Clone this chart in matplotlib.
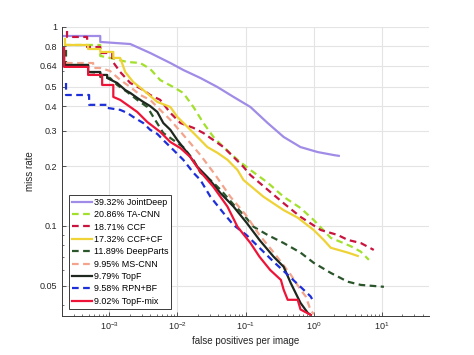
import matplotlib
matplotlib.use("Agg")
import matplotlib.pyplot as plt
from matplotlib.ticker import LogLocator, NullFormatter, FixedLocator, FixedFormatter

plt.rcParams['font.family'] = ['Liberation Sans', 'DejaVu Sans']
plt.rcParams['mathtext.fontset'] = 'custom'
plt.rcParams['mathtext.rm'] = 'Liberation Sans'
plt.rcParams['mathtext.it'] = 'Liberation Sans:italic'
plt.rcParams['mathtext.bf'] = 'Liberation Sans:bold'

# ---- data (FPPI, miss rate) ----
jointdeep_x = [2.18e-4, 7.4e-4, 7.4e-4, 2.04e-3, 4.0e-3, 7.9e-3, 1.22e-2, 2.18e-2, 3.87e-2, 6.67e-2, 0.118, 0.211, 0.362, 0.64, 1.146, 1.97, 2.33]
jointdeep_y = [0.901, 0.901, 0.841, 0.821, 0.740, 0.659, 0.608, 0.554, 0.499, 0.445, 0.396, 0.329, 0.280, 0.249, 0.235, 0.227, 0.225]

tacnn_x = [2.18e-4, 7.4e-4, 7.4e-4, 1.03e-3, 1.84e-3, 2.86e-3, 4.0e-3, 5.6e-3, 8.73e-3, 1.22e-2, 1.72e-2, 2.41e-2, 3.38e-2, 4.75e-2, 7.62e-2, 0.118, 0.211, 0.362, 0.64, 1.0, 1.78, 2.5, 3.5, 4.9, 6.44]
tacnn_y = [0.812, 0.812, 0.715, 0.699, 0.667, 0.659, 0.615, 0.541, 0.499, 0.466, 0.396, 0.329, 0.280, 0.249, 0.215, 0.191, 0.165, 0.140, 0.123, 0.107, 0.087, 0.083, 0.079, 0.0742, 0.0675]

ccf_x = [2.41e-4, 2.41e-4, 4.75e-4, 4.75e-4, 7.4e-4, 7.4e-4, 1.11e-3, 1.11e-3, 1.45e-3, 2.04e-3, 3.16e-3, 4.0e-3, 5.6e-3, 7.9e-3, 1.11e-2, 1.72e-2, 2.41e-2, 3.38e-2, 4.75e-2, 6.67e-2, 9.33e-2, 0.118, 0.211, 0.362, 0.64, 1.27, 2.25, 3.16, 4.9, 7.6]
ccf_y = [0.955, 0.891, 0.891, 0.793, 0.793, 0.740, 0.740, 0.675, 0.594, 0.523, 0.482, 0.455, 0.430, 0.370, 0.329, 0.311, 0.293, 0.270, 0.249, 0.222, 0.198, 0.180, 0.152, 0.130, 0.111, 0.0953, 0.0900, 0.0850, 0.0820, 0.0757]

ccfcf_x = [2.25e-4, 2.25e-4, 4.91e-4, 4.91e-4, 7.4e-4, 7.4e-4, 1.15e-3, 1.15e-3, 1.45e-3, 1.72e-3, 2.25e-3, 3.16e-3, 5.08e-3, 7.9e-3, 1.0e-2, 1.40e-2, 1.97e-2, 2.76e-2, 3.87e-2, 5.43e-2, 7.62e-2, 9.33e-2, 0.184, 0.362, 0.582, 1.0, 1.40, 1.78, 3.16, 4.43]
ccfcf_y = [0.870, 0.812, 0.812, 0.775, 0.775, 0.749, 0.749, 0.699, 0.699, 0.594, 0.529, 0.482, 0.420, 0.396, 0.353, 0.315, 0.280, 0.249, 0.233, 0.215, 0.191, 0.170, 0.140, 0.120, 0.110, 0.0953, 0.085, 0.0776, 0.0734, 0.0706]

deepparts_x = [2.33e-4, 2.33e-4, 4.91e-4, 4.91e-4, 7.4e-4, 7.4e-4, 1.03e-3, 1.31e-3, 1.84e-3, 2.58e-3, 3.62e-3, 4.44e-3, 6.22e-3, 8.73e-3, 1.22e-2, 1.72e-2, 2.18e-2, 3.06e-2, 4.3e-2, 6.67e-2, 9.33e-2, 0.131, 0.211, 0.362, 0.64, 1.0, 1.78, 3.16, 4.9, 10.7]
deepparts_y = [0.767, 0.644, 0.644, 0.594, 0.588, 0.561, 0.554, 0.511, 0.471, 0.430, 0.396, 0.353, 0.293, 0.270, 0.249, 0.215, 0.185, 0.170, 0.152, 0.128, 0.114, 0.099, 0.090, 0.082, 0.0734, 0.0652, 0.058, 0.0524, 0.0505, 0.0494]

mscnn_x = [2.33e-4, 5.82e-4, 5.82e-4, 7.4e-4, 1.03e-3, 1.45e-3, 2.04e-3, 2.86e-3, 4.0e-3, 5.08e-3, 7.9e-3, 1.22e-2, 2.18e-2, 3.62e-2, 6.0e-2, 0.1, 0.16, 0.276, 0.46, 0.64, 0.763, 0.9, 1.0]
mscnn_y = [0.659, 0.659, 0.622, 0.622, 0.601, 0.542, 0.499, 0.455, 0.430, 0.396, 0.341, 0.287, 0.227, 0.180, 0.140, 0.114, 0.090, 0.0715, 0.0568, 0.0478, 0.0442, 0.0377, 0.036]

topf_x = [2.18e-4, 2.18e-4, 4.91e-4, 4.91e-4, 7.4e-4, 7.4e-4, 9.35e-4, 9.35e-4, 1.31e-3, 1.72e-3, 2.04e-3, 2.58e-3, 3.16e-3, 4.0e-3, 5.08e-3, 6.22e-3, 7.9e-3, 1.0e-2, 1.40e-2, 1.97e-2, 2.76e-2, 4.3e-2, 6.67e-2, 0.103, 0.16, 0.258, 0.362, 0.46, 0.64, 0.818, 0.9]
topf_y = [0.749, 0.644, 0.644, 0.594, 0.594, 0.574, 0.574, 0.554, 0.523, 0.482, 0.466, 0.440, 0.420, 0.400, 0.374, 0.329, 0.304, 0.270, 0.233, 0.198, 0.176, 0.146, 0.125, 0.104, 0.085, 0.0700, 0.0623, 0.0516, 0.0410, 0.0365, 0.0357]

rpnbf_x = [2.33e-4, 2.33e-4, 5.08e-4, 5.08e-4, 9.35e-4, 9.35e-4, 1.45e-3, 1.84e-3, 2.25e-3, 3.16e-3, 4.0e-3, 5.08e-3, 6.22e-3, 8.73e-3, 1.22e-2, 1.72e-2, 2.18e-2, 3.06e-2, 4.75e-2, 6.67e-2, 0.103, 0.16, 0.258, 0.415, 0.64, 0.9, 0.96]
rpnbf_y = [0.523, 0.455, 0.455, 0.406, 0.406, 0.392, 0.383, 0.370, 0.353, 0.329, 0.304, 0.290, 0.270, 0.241, 0.215, 0.185, 0.170, 0.140, 0.116, 0.101, 0.090, 0.0776, 0.066, 0.0568, 0.0494, 0.0442, 0.0425]

topfmix_x = [2.18e-4, 2.18e-4, 4.91e-4, 4.91e-4, 7.89e-4, 7.89e-4, 1.15e-3, 1.15e-3, 1.45e-3, 1.84e-3, 2.58e-3, 3.62e-3, 5.6e-3, 7.9e-3, 1.11e-2, 1.55e-2, 2.18e-2, 3.38e-2, 5.43e-2, 7.62e-2, 0.118, 0.16, 0.23, 0.33, 0.362, 0.415, 0.582, 0.64, 0.9]
topfmix_y = [0.784, 0.630, 0.630, 0.574, 0.574, 0.511, 0.511, 0.445, 0.430, 0.406, 0.374, 0.333, 0.297, 0.264, 0.246, 0.222, 0.187, 0.157, 0.125, 0.099, 0.082, 0.070, 0.060, 0.0535, 0.0478, 0.0425, 0.0425, 0.038, 0.0357]

labels = ['39.32% JointDeep', '20.86% TA-CNN', '18.71% CCF', '17.32% CCF+CF',
          '11.89% DeepParts', '9.95% MS-CNN', '9.79% TopF', '9.58% RPN+BF', '9.02% TopF-mix']

ytick_vals = [0.05, 0.1, 0.2, 0.3, 0.4, 0.5, 0.64, 0.8, 1]
ytick_labels = ['0.05', '0.1', '0.2', '0.3', '0.4', '0.5', '0.64', '0.8', '1']

series = [
    (jointdeep_x, jointdeep_y, '#A08CE6', '-'),
    (tacnn_x, tacnn_y, '#A2E02C', '--'),
    (ccf_x, ccf_y, '#C8143E', '--'),
    (ccfcf_x, ccfcf_y, '#EED236', '-'),
    (deepparts_x, deepparts_y, '#2B552B', '--'),
    (mscnn_x, mscnn_y, '#F2A48C', '--'),
    (topf_x, topf_y, '#1E281E', '-'),
    (rpnbf_x, rpnbf_y, '#1C2FD8', '--'),
    (topfmix_x, topfmix_y, '#EE1438', '-'),
]

fig = plt.figure(figsize=(4.74, 3.55), dpi=100)
ax = fig.add_axes([0.131, 0.111, 0.774, 0.813])

for (xs, ys, c, ls), lab in zip(series, labels):
    if ls == '--':
        ax.plot(xs, ys, color=c, lw=1.6, linestyle=(0, (3, 2)), label=lab)
    else:
        ax.plot(xs, ys, color=c, lw=1.6, linestyle='-', label=lab)

ax.set_xscale('log')
ax.set_yscale('log')
ax.set_xlim(2.04e-4, 49)
ax.set_ylim(0.0354, 1)

ax.yaxis.set_major_locator(FixedLocator(ytick_vals))
ax.yaxis.set_major_formatter(FixedFormatter(ytick_labels))
ax.yaxis.set_minor_locator(LogLocator(base=10, subs=range(2, 10), numticks=20))
ax.yaxis.set_minor_formatter(NullFormatter())
ax.xaxis.set_major_locator(LogLocator(base=10, numticks=20))
ax.xaxis.set_minor_locator(LogLocator(base=10, subs=range(2, 10), numticks=20))
ax.xaxis.set_minor_formatter(NullFormatter())

ax.grid(True, which='major', color='#E4E4E4', lw=0.8)
ax.set_axisbelow(True)
for s in ['top', 'right']:
    ax.spines[s].set_visible(False)
for s in ['left', 'bottom']:
    ax.spines[s].set_color('#3A3A3A')
    ax.spines[s].set_linewidth(0.7)

ax.tick_params(which='both', direction='in', colors='#3A3A3A', labelcolor='#262626', labelsize=6.5)
ax.tick_params(which='major', length=3, width=0.6)
ax.tick_params(which='minor', length=1.6, width=0.5)

ax.set_xlabel('false positives per image', fontsize=7, color='#262626', labelpad=3)
ax.set_ylabel('miss rate', fontsize=7, color='#262626', labelpad=3)

leg = ax.legend(loc='lower left', fontsize=6.4, handlelength=2.3, handletextpad=0.15,
                labelspacing=0.38, borderaxespad=0.75, borderpad=0.35,
                fancybox=False, framealpha=1, edgecolor='#3A3A3A')
leg.get_frame().set_linewidth(0.7)

fig.savefig('out.png', dpi=100)
